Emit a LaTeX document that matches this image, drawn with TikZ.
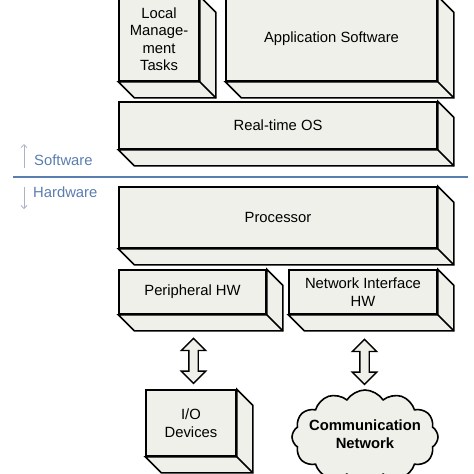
\documentclass[tikz,border=0pt]{standalone}
\usepackage{fontspec}
\setmainfont{Liberation Sans}
\usetikzlibrary{positioning,shapes.symbols,shapes.arrows,arrows.meta,calc}
\definecolor{boxfill}{HTML}{F0F0EA}
\definecolor{layerblue}{HTML}{5A7DB0}
\definecolor{hintgray}{HTML}{A8B4C4}
\newcommand{\labelfont}{\fontsize{14.8}{17.5}\selectfont}
\tikzset{
    slab/.style={rectangle, draw=black, fill=boxfill, line width=1.6pt, inner sep=0pt, align=center, font=\labelfont},
    face/.style={draw=black, fill=boxfill, line width=1.6pt, line join=miter},
    link/.style={double arrow, draw=black, fill=boxfill, line width=1.4pt, rotate=90, inner sep=4pt, minimum height=45pt, double arrow head extend=7.5pt, double arrow head indent=0pt},
    net/.style={cloud, cloud puffs=12, cloud puff arc=115, aspect=1.6, inner sep=0pt, draw=black, fill=boxfill, line width=1.6pt},
    layer/.style={anchor=west, inner sep=0pt, text=layerblue, font=\labelfont},
    hint/.style={draw=hintgray, line width=0.8pt, -{Straight Barb[length=3pt,width=6pt]}}
}
% right and bottom faces of a slab
\newcommand{\sides}[1]{%
    \draw[face] (#1.north east) -- ++(16,16) -- ($(#1.south east)+(16,16)$) -- ($(#1.south west)+(16,16)$) -- (#1.south west) -- (#1.south east) -- cycle;
    \draw[face, fill=none] (#1.south east) -- ++(16,16);
}
\begin{document}
\begin{tikzpicture}[x=1pt, y=-1pt]
\useasboundingbox (0,0) rectangle (474,474);
\clip (0,0) rectangle (474,474);

% software layer
\node[slab, minimum width=80pt, minimum height=84pt] (local) at (159,39) {Local\\Manage-\\ment\\Tasks};
\node[slab, minimum width=211pt, minimum height=84pt] (app) at (331.5,39) {Application Software};
\node[slab, minimum width=318pt, minimum height=47pt] (rtos) at (278,125.5) {Real-time OS};
\sides{local}
\sides{app}
\sides{rtos}

% boundary
\draw[layerblue, line width=1.2pt] (13,177) -- (468,177);
\node[layer] (sw) at (34,160) {Software};
\node[layer] (hw) at (33,192) {Hardware};
\coordinate (swtail) at (24,168);
\coordinate (swhead) at (24,144);
\coordinate (hwtail) at (24,187);
\coordinate (hwhead) at (24,209);
\draw[hint] (swtail) -- (swhead);
\draw[hint] (hwtail) -- (hwhead);

% hardware layer
\node[slab, minimum width=318pt, minimum height=61pt] (proc) at (278,217.5) {Processor};
\node[slab, minimum width=147pt, minimum height=44pt] (periph) at (192.5,292) {Peripheral HW};
\node[slab, minimum width=148pt, minimum height=44pt] (nic) at (363,292) {Network Interface\\HW};
\sides{proc}
\sides{periph}
\sides{nic}

% outside world
\node[slab, minimum width=90pt, minimum height=66pt] (io) at (191,423) {I/O\\Devices};
\sides{io}
\node[net, minimum width=146pt, minimum height=94pt,
      label={[align=center, font=\labelfont\bfseries, yshift=3pt]center:Communication\\Network}] (comm) at (365,437) {};

\node[link] (iolink) at ($(periph.south)+(1,46)$) {};
\node[link] (netlink) at ($(nic.south)+(1.5,47)$) {};

\end{tikzpicture}
\end{document}
